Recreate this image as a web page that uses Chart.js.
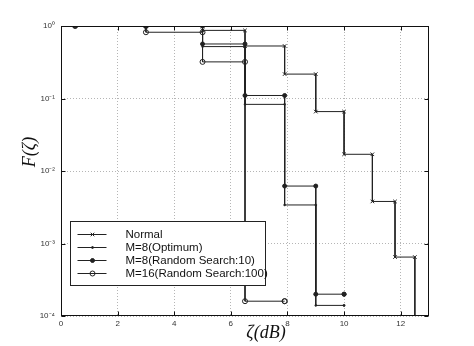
<!DOCTYPE html>
<html lang="en">
<head>
<meta charset="UTF-8">
<title>F(ζ) vs ζ(dB)</title>
<script src="https://cdn.jsdelivr.net/npm/chart.js@4.4.0/dist/chart.umd.min.js"></script>
<style>
  html, body { margin: 0; padding: 0; background: #fff; }
</style>
</head>
<body>
<canvas id="cdf" width="474" height="346"></canvas>
<script>
// step edges (dB) and the level held from each edge up to the next one
const normalX  = [0.5, 3, 5, 6.5, 7.9, 9, 10, 11, 11.8, 12.5];
const normalY  = [1, 1, 0.87, 0.53, 0.217, 0.066, 0.017, 0.0038, 0.00065, 0.00001];
const optimumX = [0.5, 3, 5, 6.5, 7.9, 9, 10];
const optimumY = [1, 1, 0.52, 0.083, 0.0034, 0.00014, 0.00014];
const randomX  = [0.5, 3, 5, 6.5, 7.9, 9, 10];
const randomY  = [1, 1, 0.565, 0.11, 0.0062, 0.0002, 0.0002];
const m16X     = [0.5, 3, 5, 6.5, 7.9];
const m16Y     = [1, 0.82, 0.32, 0.00016, 0.00016];

const seriesNames = ['Normal', 'M=8(Optimum)', 'M=8(Random Search:10)', 'M=16(Random Search:100)'];
const xTicks = [0, 2, 4, 6, 8, 10, 12];
const yTicks = [1, 0.1, 0.01, 0.001, 0.0001];
const yTickLabels = ['10⁰', '10⁻¹', '10⁻²', '10⁻³', '10⁻⁴'];

// stairs(): horizontal to the next edge, then vertical, with a vertex at every corner
function stairs(xs, ys) {
    const pts = [{ x: xs[0], y: ys[0] }];
    for (let i = 1; i < xs.length; i++) {
        pts.push({ x: xs[i], y: ys[i - 1] });
        pts.push({ x: xs[i], y: ys[i] });
    }
    return pts;
}

const ink = '#222';
const markers = [
    { pointStyle: 'crossRot', pointRadius: 2.5, pointBorderWidth: 1, pointBackgroundColor: ink },
    { pointStyle: 'circle', pointRadius: 1, pointBorderWidth: 0.5, pointBackgroundColor: ink },
    { pointStyle: 'circle', pointRadius: 2, pointBorderWidth: 1, pointBackgroundColor: ink },
    { pointStyle: 'circle', pointRadius: 2.5, pointBorderWidth: 1, pointBackgroundColor: 'rgba(0,0,0,0)' }
];

const series = [[normalX, normalY], [optimumX, optimumY], [randomX, randomY], [m16X, m16Y]];
const datasets = series.map(([xs, ys], i) => Object.assign({
    label: seriesNames[i],
    data: stairs(xs, ys),
    borderColor: ink,
    borderWidth: 1,
    pointBorderColor: ink,
    fill: false,
    tension: 0
}, markers[i]));

// box, inward tick marks, axis titles and the legend
const decorations = {
    id: 'decorations',
    afterDraw(chart) {
        const { ctx, chartArea: a, scales: { x, y } } = chart;
        const L = Math.round(a.left) + 0.5, R = Math.round(a.right) - 0.5;
        const T = Math.round(a.top) + 0.5, B = Math.round(a.bottom) - 0.5;
        ctx.save();
        ctx.strokeStyle = '#111';
        ctx.lineWidth = 1;
        ctx.strokeRect(L, T, R - L, B - T);

        ctx.beginPath();
        xTicks.forEach(v => {
            const px = Math.round(x.getPixelForValue(v)) + 0.5;
            ctx.moveTo(px, B); ctx.lineTo(px, B - 4);
            ctx.moveTo(px, T); ctx.lineTo(px, T + 4);
        });
        yTicks.forEach(v => {
            const py = Math.round(y.getPixelForValue(v)) + 0.5;
            ctx.moveTo(L, py); ctx.lineTo(L + 4, py);
            ctx.moveTo(R, py); ctx.lineTo(R - 4, py);
        });
        ctx.stroke();

        // axis titles
        ctx.fillStyle = '#111';
        ctx.font = 'italic 18px "Liberation Serif", serif';
        ctx.textAlign = 'center';
        ctx.textBaseline = 'middle';
        ctx.fillText('ζ(dB)', 266, 333);
        ctx.save();
        ctx.translate(30, 152);
        ctx.rotate(-Math.PI / 2);
        ctx.fillText('F(ζ)', 0, 0);
        ctx.restore();

        // legend
        const bx = 70.5, by = 221.5, bw = 195, bh = 64;
        ctx.fillStyle = '#fff';
        ctx.fillRect(bx, by, bw, bh);
        ctx.strokeStyle = '#222';
        ctx.strokeRect(bx, by, bw, bh);
        ctx.font = '11.5px "Liberation Sans", Arial, sans-serif';
        ctx.textAlign = 'left';
        chart.data.datasets.forEach((ds, i) => {
            const ry = Math.round(by + 12.5 + i * 12.9) + 0.5;
            ctx.strokeStyle = ink;
            ctx.lineWidth = 1;
            ctx.beginPath();
            ctx.moveTo(bx + 7, ry);
            ctx.lineTo(bx + 36, ry);
            ctx.stroke();
            ctx.fillStyle = ds.pointBackgroundColor;
            Chart.helpers.drawPoint(ctx, {
                pointStyle: ds.pointStyle,
                radius: ds.pointRadius,
                borderWidth: ds.pointBorderWidth,
                rotation: 0
            }, bx + 22, ry);
            ctx.fillStyle = '#111';
            ctx.fillText(ds.label, bx + 55, ry);
        });
        ctx.restore();
    }
};

new Chart(document.getElementById('cdf'), {
    type: 'line',
    data: { datasets },
    options: {
        responsive: false,
        animation: false,
        layout: { padding: { top: 26, right: 45, left: 0, bottom: 0 } },
        plugins: {
            legend: { display: false },
            tooltip: { enabled: false }
        },
        scales: {
            x: {
                type: 'linear',
                min: 0,
                max: 13,
                afterBuildTicks: s => { s.ticks = xTicks.map(v => ({ value: v })); },
                afterFit: s => { s.height = 30; },
                ticks: {
                    font: { family: 'Liberation Sans', size: 8 },
                    color: '#333',
                    padding: 3,
                    maxRotation: 0,
                    autoSkip: false
                },
                grid: { color: '#b5b5b5', lineWidth: 1, drawTicks: false },
                border: { display: false, dash: [1, 2] }
            },
            y: {
                type: 'logarithmic',
                min: 0.0001,
                max: 1,
                afterBuildTicks: s => { s.ticks = yTicks.map(v => ({ value: v })); },
                afterFit: s => { s.width = 61; },
                ticks: {
                    font: { family: 'Liberation Sans', size: 8 },
                    color: '#333',
                    padding: 6,
                    autoSkip: false,
                    callback: v => yTickLabels[yTicks.indexOf(v)]
                },
                grid: { color: '#b5b5b5', lineWidth: 1, drawTicks: false },
                border: { display: false, dash: [1, 2] }
            }
        }
    },
    plugins: [decorations]
});
</script>
</body>
</html>
